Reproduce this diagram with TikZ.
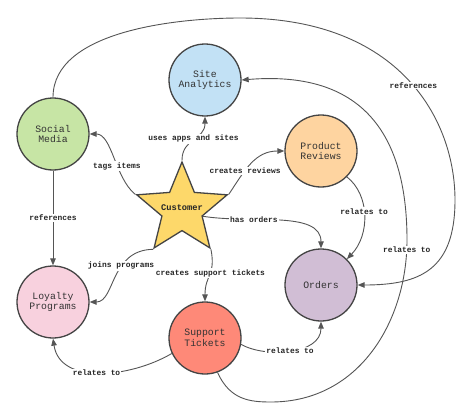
\documentclass[tikz,border=0pt]{standalone}
\usepackage{fontspec}
\setmonofont{Liberation Mono}
\usetikzlibrary{shapes.geometric,arrows.meta}
\definecolor{cgreen}{HTML}{C7E5A5}
\definecolor{cblue}{HTML}{C2E1F5}
\definecolor{corange}{HTML}{FED4A0}
\definecolor{cpink}{HTML}{F8D1DE}
\definecolor{csalmon}{HTML}{FE8978}
\definecolor{cpurple}{HTML}{D1BED5}
\definecolor{cyellow}{HTML}{FDD86A}
\definecolor{cline}{HTML}{555555}
\definecolor{cborder}{HTML}{444444}
\begin{document}
\begin{tikzpicture}[x=1pt,y=-1pt,
  circ/.style={circle, draw=cborder, line width=1.3pt, minimum size=72pt, inner sep=0pt,
    align=center, text=black!80, font=\ttfamily\fontsize{9.8}{10.5}\selectfont},
  starnode/.style={star, star points=5, star point ratio=2.25, draw=cborder, line width=1.3pt,
    fill=cyellow, minimum size=95pt, inner sep=0pt},
  lbl/.style={font=\ttfamily\bfseries\fontsize{7.9}{9}\selectfont, fill=white, inner sep=1pt, text=black!85},
  conn/.style={draw=cline, line width=0.9pt, -{Triangle[length=7pt,width=5.5pt]}}
]
\useasboundingbox (0,0) rectangle (474,420);
\fill[white] (0,0) rectangle (474,420);

\node[circ, fill=cgreen] (sm) at (53,134) {Social\\Media};
\node[circ, fill=cblue] (sa) at (205,80) {Site\\Analytics};
\node[circ, fill=corange] (pr) at (321,151) {Product\\Reviews};
\node[circ, fill=cpink] (lp) at (53,302) {Loyalty\\Programs};
\node[circ, fill=csalmon] (st) at (205,338) {Support\\Tickets};
\node[circ, fill=cpurple] (or) at (321,285) {Orders};
\node[starnode] (cust) at (182,209.5) {};
\node[font=\ttfamily\bfseries\fontsize{8.7}{10}\selectfont, text=black!85] (custlabel) at (182,208) {Customer};

% Customer -> Social Media
\draw[conn] (cust.outer point 2) .. controls (115,178) and (112,134) .. (sm.east)
  node[lbl, pos=0.4] {tags items};
% Customer -> Site Analytics
\draw[conn] (cust.outer point 1) .. controls (182,138) and (205,140) .. (sa.south)
  node[lbl, pos=0.5] {uses apps and sites};
% Customer -> Product Reviews
\draw[conn] (cust.outer point 5) .. controls (245,170) and (255,151) .. (pr.west)
  node[lbl, pos=0.36] {creates reviews};
% Customer -> Orders
\draw[conn] (cust.inner point 4) .. controls (250,224) and (321,210) .. (or.north)
  node[lbl, pos=0.33] {has orders};
% Customer -> Loyalty Programs
\draw[conn] (cust.outer point 3) .. controls (110,250) and (115,302) .. (lp.east)
  node[lbl, pos=0.37] {joins programs};
% Customer -> Support Tickets
\draw[conn] (cust.outer point 4) .. controls (216,275) and (205,275) .. (st.north)
  node[lbl, pos=0.45] {creates support tickets};
% Social Media -> Loyalty Programs
\draw[conn] (sm.south) -- (lp.north) node[lbl, pos=0.5] {references};
% Social Media -> Orders
\draw[conn] (sm.north) .. controls (53,30) and (180,18) .. (240,18)
  .. controls (400,18) and (455,120) .. (455,200) node[lbl, pos=0.53] {references}
  .. controls (455,270) and (420,285) .. (or.east);
% Product Reviews -> Orders
\draw[conn] (pr.-45) .. controls (370,195) and (370,235) .. (or.45)
  node[lbl, pos=0.45] {relates to};
% Support Tickets -> Loyalty Programs
\draw[conn] (st.205) .. controls (130,378) and (60,385) .. (lp.south)
  node[lbl, pos=0.52] {relates to};
% Support Tickets -> Orders
\draw[conn] (st.-10) .. controls (265,358) and (321,355) .. (or.south)
  node[lbl, pos=0.5] {relates to};
% Support Tickets -> Site Analytics
\draw[conn] (st.-70) .. controls (230,400) and (250,402) .. (271,402)
  .. controls (360,402) and (407,320) .. (407,240) node[lbl, pos=0.96] {relates to}
  .. controls (407,110) and (340,72) .. (sa.east);
\end{tikzpicture}
\end{document}
